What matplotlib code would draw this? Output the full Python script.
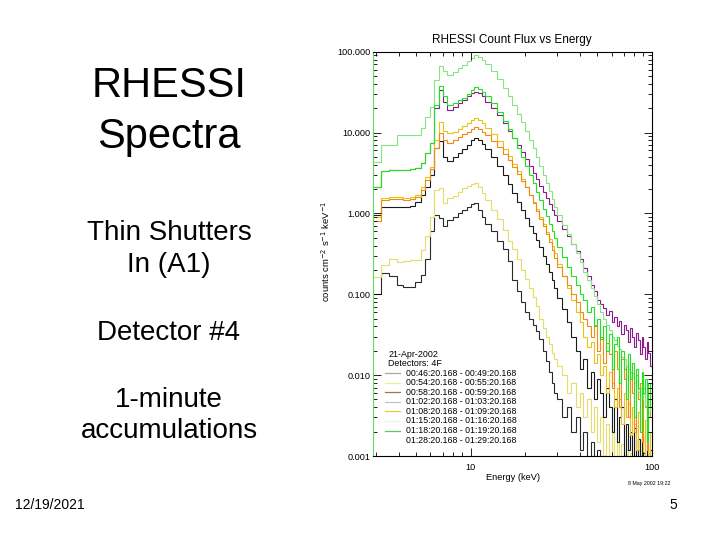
import matplotlib
matplotlib.use("Agg")
import matplotlib.pyplot as plt
from matplotlib.ticker import FixedLocator, FixedFormatter, LogLocator, NullFormatter

plt.rcParams['font.family'] = ['Liberation Sans', 'DejaVu Sans']

# ---- energy bin edges (keV) ----
edges_low = [2.9, 3.2, 3.55, 3.9, 4.25, 4.6, 4.95, 5.3, 5.6, 5.95, 6.3, 6.7, 7.0, 7.4, 8.0, 8.5, 9.0, 9.5]
edges_mid = [10.0, 10.5, 11.0, 11.5] + list(range(12, 30))
edges_high = list(range(30, 101, 2))
edges = edges_low + edges_mid + edges_high

# ---- count flux per bin (counts cm^-2 s^-1 keV^-1) ----
g1 = ([4.3, 7.0, 7.0, 9.2, 9.2, 9.3, 9.4, 11.5, 15.7, 21, 45, 66, 58, 52, 56, 62, 68, 76]
      + [84, 90, 86, 80, 70, 58, 46, 36, 28, 22, 17, 13.5, 10.5, 8.2, 6.4, 5.0, 3.9, 3.0, 2.4, 1.9, 1.5, 1.2]
      + [0.95, 0.72, 0.55, 0.42, 0.32, 0.25, 0.19, 0.15, 0.12, 0.095, 0.075, 0.06,
         0.05, 0.042, 0.036, 0.03, 0.027, 0.023, 0.021, 0.017, 0.016, 0.013, 0.012, 0.0095,
         0.0105, 0.008, 0.0085, 0.0062, 0.007, 0.005, 0.0058, 0.0042, 0.005, 0.0035, 0.004])
g2 = ([2.15, 3.3, 3.4, 3.4, 3.45, 3.5, 3.6, 4.2, 5.6, 7.4, 22, 38, 28, 22, 23, 25, 27, 30]
      + [34, 37, 35, 32, 28, 23, 18, 14, 11, 8.5, 6.5, 5.0, 3.9, 3.0, 2.35, 1.85, 1.45, 1.15, 0.92, 0.74, 0.6, 0.49]
      + [0.38, 0.29, 0.22, 0.17, 0.13, 0.1, 0.085, 0.06, 0.07, 0.04, 0.05, 0.028, 0.04, 0.02, 0.032,
         0.012, 0.024, 0.03, 0.008, 0.02, 0.012, 0.005, 0.018, 0.009, 0.014, 0.003, 0.012, 0.007, 0.002,
         0.011, 0.006, 0.009, 0.0015, 0.008, 0.004])
purple = ([2.15, 3.3, 3.4, 3.4, 3.45, 3.5, 3.6, 4.2, 5.6, 7.4, 20, 34, 24, 19, 21, 23, 25.5, 28]
          + [31, 32, 30.5, 28, 24, 20, 16.5, 13, 10.5, 8.5, 7.0, 5.7, 4.7, 3.9, 3.2, 2.65, 2.2, 1.85, 1.55, 1.3, 1.1, 0.95]
          + [0.8, 0.65, 0.52, 0.42, 0.34, 0.27, 0.21, 0.17, 0.13, 0.11, 0.085, 0.075, 0.068, 0.055, 0.062,
             0.045, 0.052, 0.04, 0.047, 0.032, 0.042, 0.036, 0.026, 0.038, 0.03, 0.022, 0.033, 0.027, 0.018,
             0.03, 0.022, 0.016, 0.026, 0.019, 0.013])
gold = ([0.9, 1.55, 1.6, 1.6, 1.55, 1.6, 1.7, 2.1, 2.8, 3.8, 8, 13.5, 10.5, 9.8, 10.3, 11, 12, 13]
        + [14.2, 15, 14.3, 13, 11.5, 9.5, 7.8, 6.3, 5.1, 4.1, 3.3, 2.65, 2.1, 1.7, 1.38, 1.12, 0.9, 0.73, 0.59, 0.48, 0.39, 0.32]
        + [0.24, 0.17, 0.12, 0.085, 0.06, 0.045, 0.03, 0.022, 0.026, 0.014, 0.018, 0.01, 0.013, 0.006, 0.011,
           0.008, 0.004, 0.007, 0.005, 0.0025, 0.006, 0.003, 0.0045, 0.0018, 0.004, 0.0025, 0.0012, 0.0035,
           0.002, 0.003, 0.001, 0.0028, 0.0015, 0.0009, 0.002])
orange = ([0.8, 1.45, 1.5, 1.5, 1.45, 1.5, 1.6, 1.95, 2.6, 3.5, 6.5, 10, 8, 7.5, 8, 8.7, 9.5, 10.3]
          + [11.2, 11.7, 11.2, 10.3, 9.2, 7.9, 6.6, 5.5, 4.6, 3.8, 3.1, 2.55, 2.1, 1.68, 1.35, 1.08, 0.86, 0.69, 0.55, 0.44, 0.35, 0.28]
          + [0.22, 0.17, 0.13, 0.1, 0.08, 0.06, 0.05, 0.04, 0.03, 0.042, 0.02, 0.03, 0.014, 0.025, 0.018,
             0.007, 0.02, 0.012, 0.004, 0.016, 0.009, 0.013, 0.003, 0.011, 0.006, 0.002, 0.01, 0.005, 0.008,
             0.0015, 0.007, 0.004, 0.0012, 0.006, 0.003])
black1 = ([0.95, 1.2, 1.2, 1.2, 1.2, 1.25, 1.37, 1.67, 2.15, 3.0, 6.5, 7.8, 5.0, 4.4, 5.0, 5.6, 6.3, 7.0]
          + [8.0, 8.6, 8.0, 7.2, 6.2, 5.0, 3.9, 3.0, 2.3, 1.8, 1.4, 1.1, 0.87, 0.7, 0.57, 0.47, 0.38, 0.3, 0.24, 0.19, 0.15, 0.12]
          + [0.09, 0.065, 0.045, 0.03, 0.02, 0.012, 0.016, 0.007, 0.011, 0.005, 0.009, 0.006, 0.003, 0.007,
             0.004, 0.002, 0.005, 0.0015, 0.003, 0.004, 0.001, 0.0025, 0.0012, 0.002, 0.0008, 0.0022, 0.0009,
             0.0016, 0.0006, 0.0018, 0.0011, 0.0007, 0.0014, 0.0006, 0.0012])
yellow2 = ([0.165, 0.23, 0.275, 0.25, 0.26, 0.265, 0.265, 0.35, 0.52, 0.9, 1.95, 2.05, 1.33, 1.55, 1.65, 1.85, 2.05, 2.2]
           + [2.3, 2.35, 2.1, 1.8, 1.45, 1.1, 0.85, 0.62, 0.46, 0.36, 0.27, 0.2, 0.155, 0.12, 0.093, 0.072, 0.05, 0.038, 0.03, 0.024, 0.019, 0.016]
           + [0.013, 0.01, 0.006, 0.008, 0.004, 0.006, 0.003, 0.005, 0.002, 0.004, 0.0015, 0.003, 0.001, 0.0025,
              0.0008, 0.002, 0.0009, 0.0015, 0.0006, 0.0014, 0.0007, 0.0012, 0.0005, 0.0011, 0.0006, 0.001,
              0.0005, 0.0012, 0.0004, 0.001, 0.0005, 0.0009, 0.0004, 0.0011, 0.0005])
black2 = ([0.1, 0.181, 0.17, 0.13, 0.124, 0.124, 0.143, 0.172, 0.275, 0.6, 0.95, 0.87, 0.7, 0.83, 0.9, 1.0, 1.1, 1.2]
          + [1.3, 1.33, 1.1, 0.91, 0.75, 0.6, 0.46, 0.36, 0.26, 0.15, 0.11, 0.08, 0.06, 0.05, 0.042, 0.035, 0.028, 0.02, 0.015, 0.011, 0.008, 0.006]
          + [0.005, 0.003, 0.004, 0.002, 0.003, 0.0012, 0.002, 0.0008, 0.0015, 0.0006, 0.0012, 0.0005, 0.001,
             0.0004, 0.0009, 0.0005, 0.0008, 0.0004, 0.0007, 0.0003, 0.0006, 0.0004, 0.0005, 0.0003, 0.0005,
             0.0004, 0.0006, 0.0003, 0.0005, 0.0004, 0.0005, 0.0003, 0.0004, 0.0003, 0.0004])

series = [
    (purple, '#8a1a8a'),
    (black2, '#2a2a2a'),
    (yellow2, '#e6dc6a'),
    (black1, '#1a1a1a'),
    (gold, '#e8c21a'),
    (orange, '#f08a10'),
    (g1, '#86e486'),
    (g2, '#22e022'),
]

legend_labels = ['00:46:20.168 - 00:49:20.168', '00:54:20.168 - 00:55:20.168',
                 '00:58:20.168 - 00:59:20.168', '01:02:20.168 - 01:03:20.168',
                 '01:08:20.168 - 01:09:20.168', '01:15:20.168 - 01:16:20.168',
                 '01:18:20.168 - 01:19:20.168', '01:28:20.168 - 01:29:20.168']
legend_colors = ['#a8a8a8', '#eeeea0', '#a07840', '#c4c4c4', '#d8d040', '#eeeeee', '#66c466', '#ffffff']

fig = plt.figure(figsize=(7.2, 5.4), dpi=100)
fig.patch.set_facecolor('white')

# ---- slide text ----
cx = 0.2347
fig.text(cx, 1 - 97 / 540, 'RHESSI', ha='center', va='baseline', fontsize=30)
fig.text(cx, 1 - 148 / 540, 'Spectra', ha='center', va='baseline', fontsize=30)
fig.text(cx, 1 - 240 / 540, 'Thin Shutters', ha='center', va='baseline', fontsize=20)
fig.text(cx, 1 - 272 / 540, 'In (A1)', ha='center', va='baseline', fontsize=20)
fig.text(cx, 1 - 340 / 540, 'Detector #4', ha='center', va='baseline', fontsize=20)
fig.text(cx, 1 - 407 / 540, '1-minute', ha='center', va='baseline', fontsize=20)
fig.text(cx, 1 - 438 / 540, 'accumulations', ha='center', va='baseline', fontsize=20)
fig.text(15 / 720, 1 - 505 / 540, '12/19/2021', ha='left', va='center', fontsize=10)
fig.text(677 / 720, 1 - 505 / 540, '5', ha='right', va='center', fontsize=10)

# ---- plot ----
ax = fig.add_axes([373.3 / 720, 1 - 456 / 540, (651.7 - 373.3) / 720, (456 - 51.7) / 540])
for vals, col in series:
    ax.stairs(vals, edges, color=col, lw=0.8, baseline=None)

ax.set_xscale('log')
ax.set_yscale('log')
ax.set_xlim(2.9, 100)
ax.set_ylim(0.001, 100)

ax.yaxis.set_major_locator(FixedLocator([0.001, 0.01, 0.1, 1, 10, 100]))
ax.yaxis.set_major_formatter(FixedFormatter(['0.001', '0.010', '0.100', '1.000', '10.000', '100.000']))
ax.yaxis.set_minor_locator(LogLocator(base=10, subs=range(2, 10), numticks=20))
ax.yaxis.set_minor_formatter(NullFormatter())
ax.xaxis.set_major_locator(FixedLocator([10, 100]))
ax.xaxis.set_major_formatter(FixedFormatter(['10', '100']))
ax.xaxis.set_minor_locator(LogLocator(base=10, subs=range(2, 10), numticks=20))
ax.xaxis.set_minor_formatter(NullFormatter())

ax.tick_params(which='both', direction='in', top=True, right=True, width=0.6, colors='black')
ax.tick_params(which='major', length=5.5, labelsize=6.6)
ax.tick_params(which='minor', length=2.8)
ax.tick_params(axis='y', pad=2)
ax.tick_params(axis='x', pad=5)
for s in ax.spines.values():
    s.set_linewidth(0.8)
ax.spines['left'].set_color('#66d866')

fig.text(512 / 720, 1 - 40 / 540, 'RHESSI Count Flux vs Energy', ha='center', va='center', fontsize=8.5)
fig.text(513 / 720, 1 - 477 / 540, 'Energy (keV)', ha='center', va='center', fontsize=6.7)
fig.text(326 / 720, 1 - 251 / 540, 'counts cm$^{-2}$ s$^{-1}$ keV$^{-1}$', ha='center', va='center',
         rotation=90, fontsize=6.8)
fig.text(670 / 720, 1 - 484 / 540, '8 May 2002 19:22', ha='right', va='center', fontsize=3.8)

# ---- legend block ----
ax.text(0.054, 0.25, '21-Apr-2002', transform=ax.transAxes, fontsize=6.4, va='center', ha='left')
ax.text(0.054, 0.229, 'Detectors: 4F', transform=ax.transAxes, fontsize=6.4, va='center', ha='left')
y0 = 0.205
dy = 0.02367
for i, (lab, col) in enumerate(zip(legend_labels, legend_colors)):
    yy = y0 - i * dy
    ax.plot([0.043, 0.097], [yy, yy], color=col, lw=0.9, transform=ax.transAxes)
    ax.text(0.117, yy, lab, transform=ax.transAxes, fontsize=6.3, va='center', ha='left')

fig.savefig('out.png', dpi=100, facecolor='white')
